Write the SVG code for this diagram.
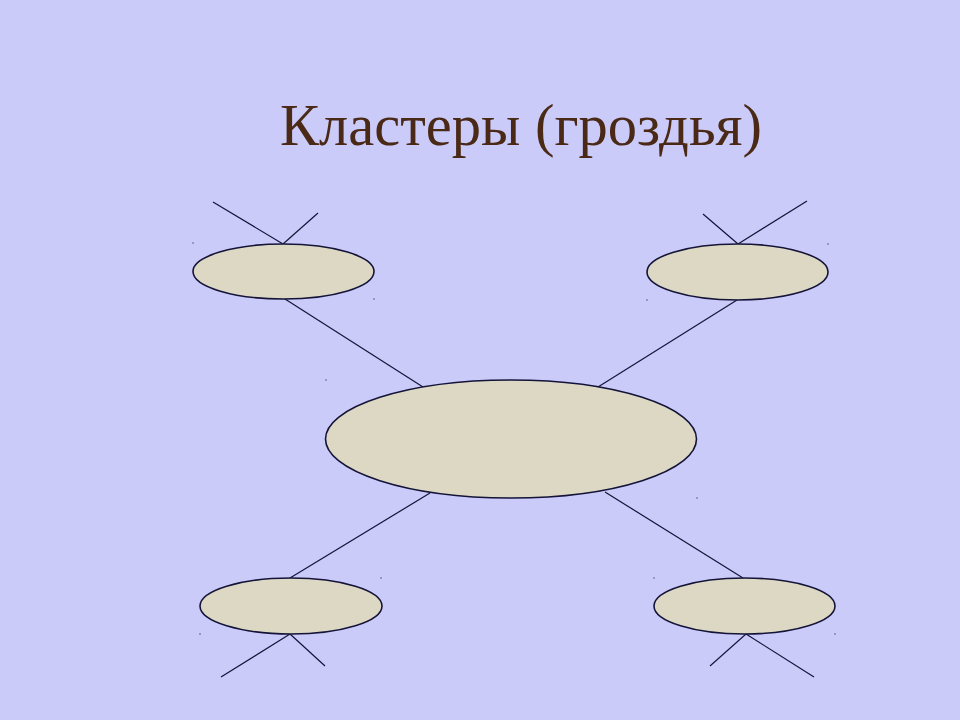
<svg xmlns="http://www.w3.org/2000/svg" width="960" height="720" viewBox="0 0 960 720">
<style>
.node{fill:#ddd8c4;stroke:#141438;stroke-width:1.6}
.edge{stroke:#141438;stroke-width:1.2;fill:none}
.dot{fill:#55557a}
.title{font-family:"Liberation Serif","Times New Roman",serif;font-size:58.6px;fill:#4a2a16}
</style>
<rect width="960" height="720" fill="#cbcbfa"/>
<text class="title" x="280" y="145" textLength="482" lengthAdjust="spacingAndGlyphs">Кластеры (гроздья)</text>
<g id="connectors">
<line class="edge" x1="285" y1="299" x2="423" y2="387"/>
<line class="edge" x1="737" y1="300" x2="598" y2="387"/>
<line class="edge" x1="430" y1="493" x2="290" y2="578"/>
<line class="edge" x1="605" y1="492" x2="743" y2="578"/>
<line class="edge" x1="213" y1="202" x2="283" y2="244"/>
<line class="edge" x1="318" y1="213" x2="283" y2="244"/>
<line class="edge" x1="703" y1="214" x2="738" y2="244"/>
<line class="edge" x1="807" y1="201" x2="738" y2="244"/>
<line class="edge" x1="290" y1="634" x2="221" y2="677"/>
<line class="edge" x1="290" y1="634" x2="325" y2="666"/>
<line class="edge" x1="746" y1="634" x2="710" y2="666"/>
<line class="edge" x1="746" y1="634" x2="814" y2="677"/>
</g>
<g id="center"><ellipse class="node" cx="511" cy="439" rx="185.5" ry="59"/></g>
<g id="top-left"><ellipse class="node" cx="283.5" cy="271.5" rx="90.5" ry="27.5"/></g>
<g id="top-right"><ellipse class="node" cx="737.5" cy="272" rx="90.5" ry="28"/></g>
<g id="bottom-left"><ellipse class="node" cx="291" cy="606" rx="91" ry="28"/></g>
<g id="bottom-right"><ellipse class="node" cx="744.5" cy="606" rx="90.5" ry="28"/></g>
<g id="handles">
<circle class="dot" cx="193" cy="243" r="0.8"/>
<circle class="dot" cx="374" cy="299" r="0.8"/>
<circle class="dot" cx="326" cy="380" r="0.8"/>
<circle class="dot" cx="697" cy="498" r="0.8"/>
<circle class="dot" cx="828" cy="244" r="0.8"/>
<circle class="dot" cx="647" cy="300" r="0.8"/>
<circle class="dot" cx="381" cy="578" r="0.8"/>
<circle class="dot" cx="200" cy="634" r="0.8"/>
<circle class="dot" cx="654" cy="578" r="0.8"/>
<circle class="dot" cx="835" cy="634" r="0.8"/>
</g>
</svg>
